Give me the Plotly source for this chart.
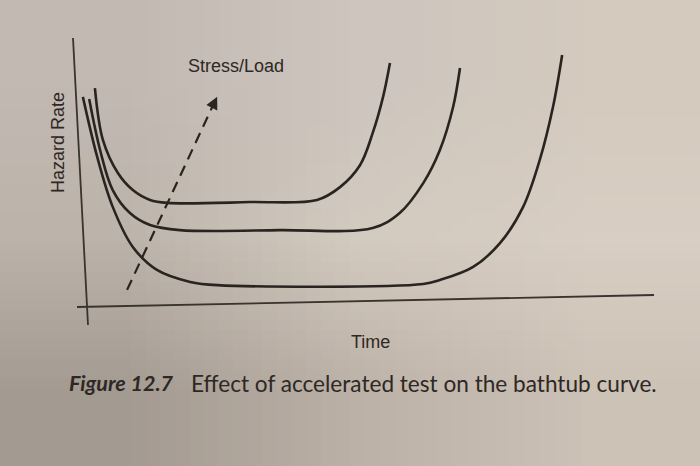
import base64
import struct
import zlib

import plotly.graph_objects as go

# ---------------- data (time / hazard rate, arbitrary units) ----------------
# highest stress / load -> shortest life
time_high = [2.6, 4.0, 6.6, 9.2, 12.2, 15.2, 29.6, 41.3, 45.3, 48.8, 51.0, 52.8, 54.0]
hazard_high = [82.0, 62.5, 50.2, 43.8, 40.1, 39.0, 39.3, 40.1, 44.9, 53.2, 65.2, 78.7, 91.4]

time_mid = [1.6, 3.5, 5.7, 8.7, 12.2, 17.4, 34.8, 51.0, 55.7, 59.8, 62.7, 65.0, 66.2]
hazard_mid = [77.9, 58.8, 43.8, 35.2, 30.7, 28.8, 28.8, 29.6, 35.2, 46.4, 58.8, 74.9, 89.5]

# normal stress / load
time_low = [0.5, 3.0, 5.7, 9.2, 13.4, 19.2, 23.9, 59.8, 62.7, 68.5, 73.2, 77.2, 80.1, 82.4, 84.0]
hazard_low = [78.7, 56.2, 37.5, 22.5, 13.9, 9.4, 8.2, 8.6, 10.1, 15.0, 24.0, 37.5, 55.1, 74.9, 94.4]

# "Stress/Load" direction arrow (tail -> tip)
arrow_time = [8.2, 23.1]
arrow_hazard = [6.4, 75.2]
arrow_tip = (23.9, 78.7)

axis_x_title = "Time"
axis_y_title = "Hazard Rate"
arrow_label = "Stress/Load"
caption_label = "Figure 12.7"
caption_text = "Effect of accelerated test on the bathtub curve."

# ---------------- styling ----------------
W, H = 700, 466
INK = "#2a2420"
TEXT = "#2e2824"


def px(x):
    return x / W


def py(y):
    return 1 - y / H


def png_uri(rows):
    h = len(rows)
    w = len(rows[0])
    raw = b"".join(
        b"\x00" + bytes(int(c[i:i + 2], 16) for c in row for i in (1, 3, 5)) for row in rows
    )

    def chunk(tag, data):
        return (struct.pack(">I", len(data)) + tag + data
                + struct.pack(">I", zlib.crc32(tag + data) & 0xFFFFFFFF))

    png = (b"\x89PNG\r\n\x1a\n"
           + chunk(b"IHDR", struct.pack(">IIBBBBB", w, h, 8, 2, 0, 0, 0))
           + chunk(b"IDAT", zlib.compress(raw))
           + chunk(b"IEND", b""))
    return "data:image/png;base64," + base64.b64encode(png).decode()


paper_rows = [
    ["#c2b9b3", "#cdc5be", "#d4cabe"],
    ["#bcb3aa", "#d3cac0", "#d8cec3"],
    ["#a39a91", "#bcb1a7", "#cdc2b6"],
]

fig = go.Figure()

curve_line = dict(color=INK, width=2.6, shape="spline", smoothing=1.0)
for t, hz in ((time_high, hazard_high), (time_mid, hazard_mid), (time_low, hazard_low)):
    fig.add_trace(go.Scatter(x=t, y=hz, mode="lines", line=curve_line,
                             hoverinfo="skip", showlegend=False))

fig.add_trace(go.Scatter(x=arrow_time, y=arrow_hazard, mode="lines",
                         line=dict(color=INK, width=2.2, dash="11px,7px"),
                         hoverinfo="skip", showlegend=False))

fig.add_annotation(x=arrow_tip[0], y=arrow_tip[1], ax=arrow_time[-1], ay=arrow_hazard[-1],
                   xref="x", yref="y", axref="x", ayref="y", text="",
                   showarrow=True, arrowhead=2, arrowsize=1.1, arrowwidth=2.2,
                   arrowcolor=INK)

label_font = dict(family="Liberation Sans, Arial, sans-serif", size=18, color=TEXT)
common = dict(xref="paper", yref="paper", showarrow=False, xanchor="center", yanchor="middle")
fig.add_annotation(x=px(236), y=py(66), text=arrow_label, font=label_font, **common)
fig.add_annotation(x=px(58), y=py(142), text=axis_y_title, textangle=-90,
                   font=label_font, **common)
fig.add_annotation(x=px(370), y=py(342), text=axis_x_title, font=label_font, **common)

cap = dict(xref="paper", yref="paper", showarrow=False, xanchor="left", yanchor="middle")
fig.add_annotation(x=px(67), y=py(383), text="<b><i>" + caption_label + "</i></b>",
                   font=dict(family="Lato, sans-serif", size=21.5, color=TEXT), **cap)
fig.add_annotation(x=px(189), y=py(383), text=caption_text,
                   font=dict(family="Lato, sans-serif", size=22.6, color=TEXT), **cap)

axis_line = dict(color="#3a332e", width=1.8)
fig.add_shape(type="line", xref="paper", yref="paper",
              x0=px(73), y0=py(38), x1=px(88), y1=py(325), line=axis_line)
fig.add_shape(type="line", xref="paper", yref="paper",
              x0=px(77), y0=py(307), x1=px(654), y1=py(295), line=axis_line)

fig.add_layout_image(dict(source=png_uri(paper_rows), xref="paper", yref="paper",
                          x=0, y=1, sizex=1, sizey=1, sizing="stretch",
                          xanchor="left", yanchor="top", layer="below"))

fig.update_layout(
    width=W, height=H,
    margin=dict(l=0, r=0, t=0, b=0),
    paper_bgcolor="#cdc4ba", plot_bgcolor="rgba(0,0,0,0)",
    xaxis=dict(domain=[px(80), px(654)], range=[0, 100], visible=False, fixedrange=True),
    yaxis=dict(domain=[py(307), py(40)], range=[0, 100], visible=False, fixedrange=True),
    showlegend=False,
)

fig.write_html("out.html", config={"displayModeBar": False})
